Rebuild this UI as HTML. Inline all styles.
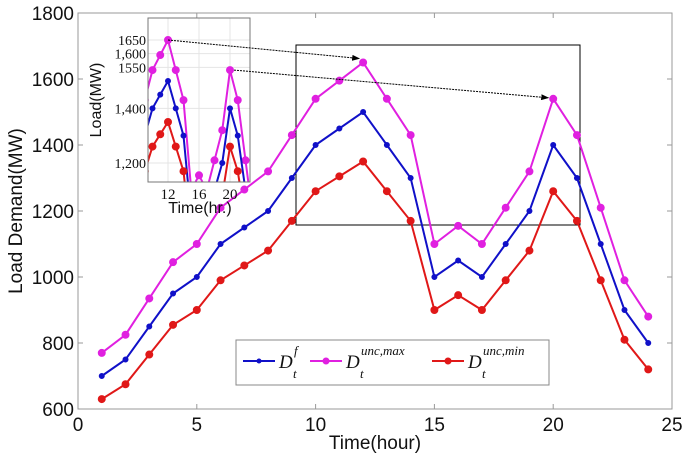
<!DOCTYPE html>
<html><head><meta charset="utf-8"><style>
html,body{margin:0;padding:0;background:#fff;}
svg{display:block;font-family:"Liberation Sans",sans-serif;}
.ser{font-family:"Liberation Serif",serif;}
</style></head><body>
<svg id="chart" width="685" height="464" viewBox="0 0 685 464" xmlns="http://www.w3.org/2000/svg">
<defs>
<clipPath id="insetClip"><rect x="148" y="18" width="102" height="164"/></clipPath>
<marker id="arr" markerWidth="8" markerHeight="6" refX="7" refY="3" orient="auto"><path d="M0,0 L8,3 L0,6 Z" fill="#000"/></marker>
</defs>
<g id="main"></g>
<g id="inset"></g>
</svg>
<script>
const hours=[1,2,3,4,5,6,7,8,9,10,11,12,13,14,15,16,17,18,19,20,21,22,23,24];
const forecast=[700,750,850,950,1000,1100,1150,1200,1300,1400,1450,1500,1400,1300,1000,1050,1000,1100,1200,1400,1300,1100,900,800];
const uncMax=[770,825,935,1045,1100,1210,1265,1320,1430,1540,1595,1650,1540,1430,1100,1155,1100,1210,1320,1540,1430,1210,990,880];
const uncMin=[630,675,765,855,900,990,1035,1080,1170,1260,1305,1350,1260,1170,900,945,900,990,1080,1260,1170,990,810,720];
const xTicks=[0,5,10,15,20,25];
const yTicks=[600,800,1000,1200,1400,1600,1800];
const insetXTicks=[12,16,20];
const insetYTicks=[1200,1400,1550,1600,1650];
const insetYLabels=["1,200","1,400","1550","1,600","1650"];

const NS="http://www.w3.org/2000/svg";
function mk(tag,attrs,parent){const e=document.createElementNS(NS,tag);for(const k in attrs)e.setAttribute(k,attrs[k]);parent.appendChild(e);return e;}
const L=78,R=672,T=13,B=409;
const sx=v=>L+(v-0)/25*(R-L);
const sy=v=>B-(v-600)/1200*(B-T);
const main=document.getElementById('main');

const frame=mk('rect',{x:L,y:T,width:R-L,height:B-T,fill:'#fff',stroke:'#999','stroke-width':1},main);



xTicks.forEach(t=>{
  const x=sx(t);
  mk('line',{x1:x,y1:B,x2:x,y2:B-5,stroke:'#999'},main);
  mk('line',{x1:x,y1:T,x2:x,y2:T+5,stroke:'#999'},main);
  const tx=mk('text',{x:x,y:B+22,'text-anchor':'middle','font-size':19,fill:'#111'},main);
  tx.textContent=t;
  
  
});
yTicks.forEach(t=>{
  const y=sy(t);
  mk('line',{x1:L,y1:y,x2:L+5,y2:y,stroke:'#999'},main);
  mk('line',{x1:R,y1:y,x2:R-5,y2:y,stroke:'#999'},main);
  const tx=mk('text',{x:L-4,y:y+7,'text-anchor':'end','font-size':19,fill:'#111'},main);
  tx.textContent=t;
  
  
});
const xt=mk('text',{x:(L+R)/2,y:449,'text-anchor':'middle','font-size':19,fill:'#111'},main);
xt.textContent='Time(hour)';


const yt=mk('text',{x:0,y:0,'text-anchor':'middle','font-size':19,fill:'#111',transform:`translate(22,${(T+B)/2}) rotate(-90)`},main);
yt.textContent='Load Demand(MW)';



// zoom rectangle
const zr=mk('rect',{x:296,y:45,width:284,height:180,fill:'none',stroke:'#000','stroke-width':1},main);



function drawSeries(parent,xs,ys,vals,color,r,name,open){
  const g=mk('g',{},parent);
  
  
  const pts=hours.map((h,i)=>xs(h)+','+ys(vals[i])).join(' ');
  mk('polyline',{points:pts,fill:'none',stroke:color,'stroke-width':2},g);
  hours.forEach((h,i)=>{
    const c=mk('circle',{cx:xs(h),cy:ys(vals[i]),r:r,fill:color,stroke:color},g);
    
    
  });
}
drawSeries(main,sx,sy,uncMax,'#e020e0',3.5,'series-unc-max');
drawSeries(main,sx,sy,forecast,'#1010c8',2.5,'series-forecast');
drawSeries(main,sx,sy,uncMin,'#e01818',3.5,'series-unc-min');

// inset
const inset=document.getElementById('inset');
const IL=148,IR=250,IT=18,IB=182;
const ix=v=>168+(v-12)*(62/8);
const iy=v=>163-(v-1200)*(123/450);
const ibg=mk('rect',{x:IL,y:IT,width:IR-IL,height:IB-IT,fill:'#fff',stroke:'#777'},inset);


insetXTicks.forEach(t=>{
  mk('line',{x1:ix(t),y1:IT,x2:ix(t),y2:IB,stroke:'#e4e4e4'},inset);
  const tx=mk('text',{x:ix(t),y:IB+17,'text-anchor':'middle','font-size':15,fill:'#111',class:'ser'},inset);
  tx.textContent=t;
  
  
});
insetYTicks.forEach((t,i)=>{
  mk('line',{x1:IL,y1:iy(t),x2:IR,y2:iy(t),stroke:'#e4e4e4'},inset);
  const tx=mk('text',{x:IL-2,y:iy(t)+5,'text-anchor':'end','font-size':14,fill:'#111',class:'ser'},inset);
  tx.textContent=insetYLabels[i];
  
  
});
const clipG=mk('g',{'clip-path':'url(#insetClip)'},inset);
drawSeries(clipG,ix,iy,uncMax,'#e020e0',3.5,'inset-series-unc-max');
drawSeries(clipG,ix,iy,forecast,'#1010c8',2.5,'inset-series-forecast');
drawSeries(clipG,ix,iy,uncMin,'#e01818',3.5,'inset-series-unc-min');
mk('rect',{x:IL,y:IT,width:IR-IL,height:IB-IT,fill:'none',stroke:'#777'},inset);
const ixt=mk('text',{x:200,y:213,'text-anchor':'middle','font-size':16,fill:'#111'},inset);
ixt.textContent='Time(hr.)';


const iyt=mk('text',{x:0,y:0,'text-anchor':'middle','font-size':16,fill:'#111',transform:'translate(101,100) rotate(-90)'},inset);
iyt.textContent='Load(MW)';



// arrows
const a1=mk('line',{x1:ix(12),y1:iy(1650),x2:sx(12)-4,y2:sy(1650)-4,stroke:'#000','stroke-width':1,'stroke-dasharray':'2,1','marker-end':'url(#arr)'},inset);


const a2=mk('line',{x1:ix(20)+4,y1:iy(1540),x2:sx(20)-5,y2:sy(1540)-1,stroke:'#000','stroke-width':1,'stroke-dasharray':'2,1','marker-end':'url(#arr)'},inset);



// legend
const lg=mk('g',{},main);


mk('rect',{x:236,y:340,width:313,height:45,fill:'#fff',stroke:'#888'},lg);
const entries=[['#1010c8',243,'f',false],['#e020e0',310,'unc,max',true],['#e01818',432,'unc,min',true]];
entries.forEach(([c,x0,sup,big])=>{
  const e=mk('g',{},lg);
  
  
  mk('line',{x1:x0,y1:361,x2:x0+32,y2:361,stroke:c,'stroke-width':2},e);
  mk('circle',{cx:x0+16,cy:361,r:big?3.5:2.5,fill:c},e);
  const t=mk('text',{x:x0+36,y:368,'font-size':19,fill:'#111',class:'ser','font-style':'italic'},e);
  t.textContent='D';
  const s=mk('text',{x:x0+51,y:355,'font-size':13,fill:'#111',class:'ser','font-style':'italic'},e);
  s.textContent=sup;
  const b=mk('text',{x:x0+50,y:378,'font-size':13,fill:'#111',class:'ser','font-style':'italic'},e);
  b.textContent='t';
});
</script>
</body></html>
